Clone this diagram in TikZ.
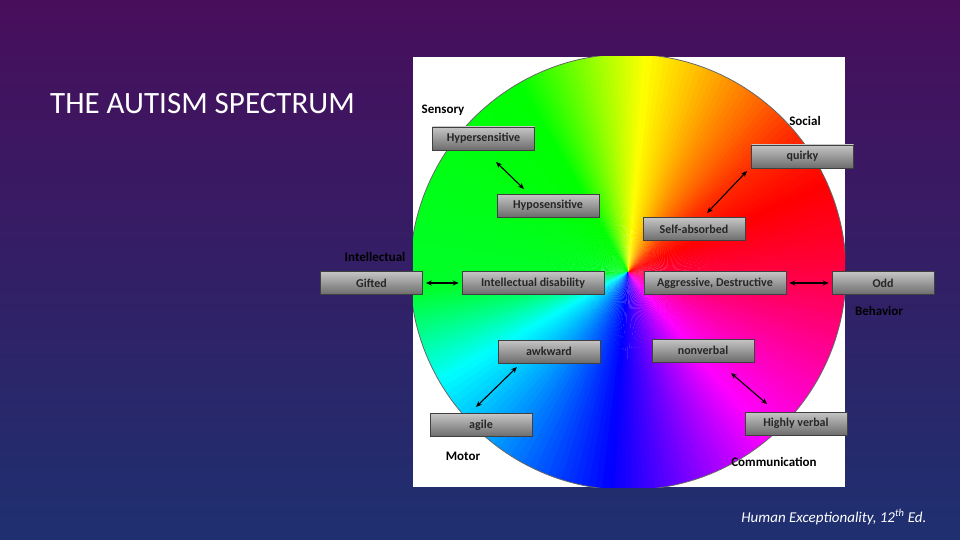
\documentclass[tikz,border=0pt]{standalone}
\usepackage{fontspec}
\setmainfont{Carlito}
\usetikzlibrary{arrows.meta}
\begin{document}
\begin{tikzpicture}[x=1pt,y=-1pt,
  lbl/.style={draw=black!75,line width=0.6pt,top color=gray!45,bottom color=gray!85!black,minimum width=102pt,minimum height=23pt,inner sep=0pt,font=\bfseries\fontsize{12}{12}\selectfont,text=black!85},
  plain/.style={font=\bfseries\fontsize{13}{13}\selectfont,text=black},
  dbl/.style={{Stealth[length=6pt,width=5pt]}-{Stealth[length=6pt,width=5pt]},line width=1.1pt,black}]
\shade[top color={rgb,255:red,72;green,14;blue,92},bottom color={rgb,255:red,30;green,48;blue,112}] (0,0) rectangle (960,540);
\useasboundingbox (0,0) rectangle (960,540);
\node[text=white,font=\fontsize{31}{31}\selectfont,anchor=west,inner sep=0pt] (title) at (50,104) {THE AUTISM SPECTRUM};
\fill[white] (413,57) rectangle (845,487);
\begin{scope}
\clip (413,57) rectangle (845,487);
\foreach \a/\ha/\b/\hb in {0/-15/40/10,40/10/85/60,85/60/120/120,120/120/185/130,185/130/210/180,210/180/265/240,265/240/310/300,310/300/360/345}{
  \foreach \i in {0,...,29}{
    \pgfmathsetmacro{\sa}{\a+(\b-\a)*\i/30}
    \pgfmathsetmacro{\sb}{\a+(\b-\a)*(\i+1)/30+0.3}
    \pgfmathsetmacro{\hh}{mod(\ha+(\hb-\ha)*(\i+0.5)/30+360,360)}
    \definecolor{wc}{Hsb}{\hh,1,1}
    \fill[wc] (628,272) -- ++(-\sa:218) arc[start angle=-\sa,end angle=-\sb,radius=218] -- cycle;
  }}
\draw[black!60,line width=0.8pt] (628,272) circle[radius=218];
\end{scope}
\node[lbl] (hyper) at (483.5,138.5) {Hypersensitive};
\node[lbl] (quirky) at (802.5,156.5) {quirky};
\node[lbl] (hypo) at (548,205.5) {Hyposensitive};
\node[lbl] (self) at (694,229) {Self-absorbed};
\node[lbl] (gifted) at (371.5,283) {Gifted};
\node[lbl,minimum width=142pt] (intdis) at (533,283) {Intellectual disability};
\node[lbl,minimum width=142pt] (aggr) at (715,283) {Aggressive, Destructive};
\node[lbl] (odd) at (883,283) {Odd};
\node[lbl] (awk) at (549,351.5) {awkward};
\node[lbl] (nonv) at (703,350.5) {nonverbal};
\node[lbl] (agile) at (481,425) {agile};
\node[lbl] (hv) at (796,423.5) {Highly verbal};
\node[plain] (sens) at (443,110) {Sensory};
\node[plain] (soc) at (805,121) {Social};
\node[plain] (intel) at (375,257) {Intellectual};
\node[plain] (beh) at (879,311) {Behavior};
\node[plain] (mot) at (463,456) {Motor};
\node[plain] (comm) at (774,462) {Communication};
\coordinate (a1) at (496,162); \coordinate (a2) at (524,189);
\coordinate (b1) at (747,171); \coordinate (b2) at (707,213);
\coordinate (c1) at (517,367); \coordinate (c2) at (476,407);
\coordinate (d1) at (731,373); \coordinate (d2) at (767,404);
\draw[dbl] (a1) -- (a2);
\draw[dbl] (b1) -- (b2);
\draw[dbl] ([xshift=3pt]gifted.east) -- ([xshift=-3pt]intdis.west);
\draw[dbl] ([xshift=3pt]aggr.east) -- ([xshift=-3pt]odd.west);
\draw[dbl] (c1) -- (c2);
\draw[dbl] (d1) -- (d2);
\node[text=white,font=\itshape\fontsize{15}{15}\selectfont,anchor=east] (cite) at (930,517) {Human Exceptionality, 12\textsuperscript{th} Ed.};
\end{tikzpicture}
\end{document}
